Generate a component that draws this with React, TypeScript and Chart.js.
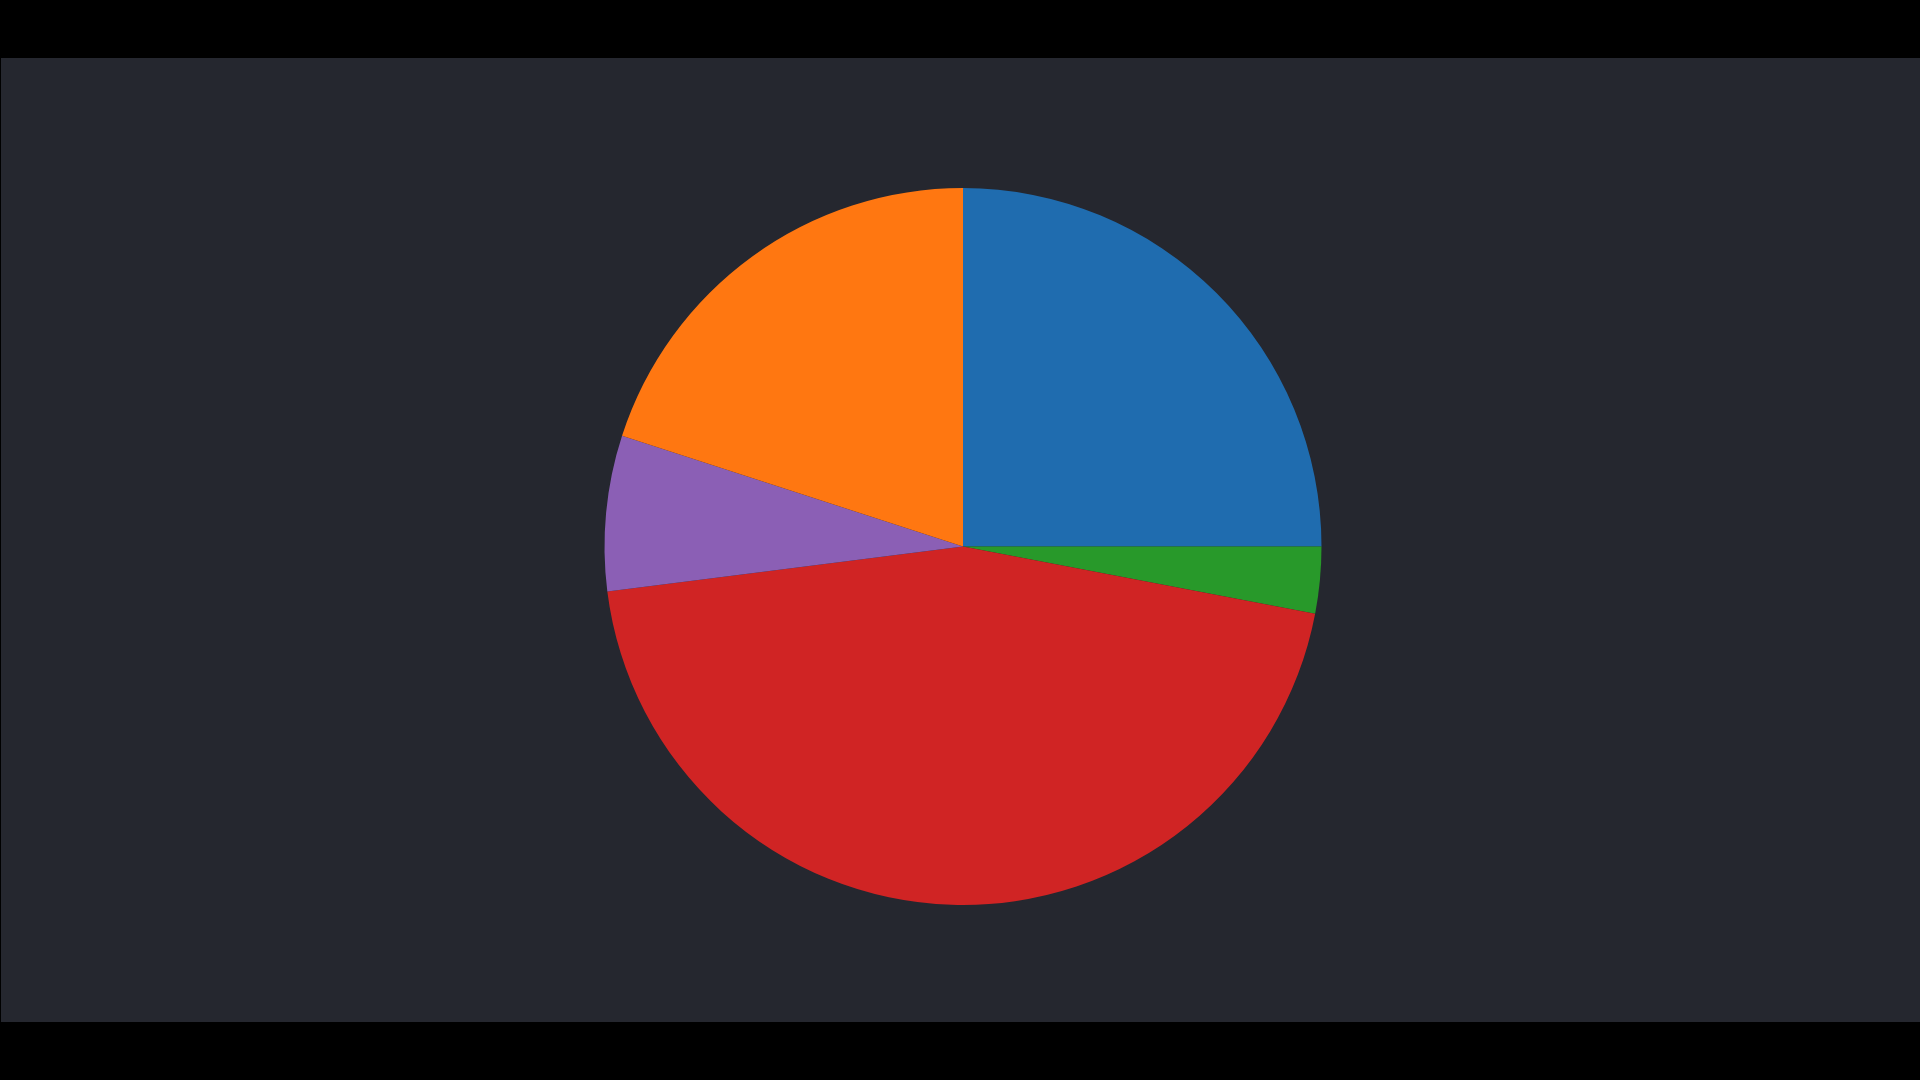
import React, { useEffect, useRef } from "react";
import { Chart, registerables } from "chart.js";

Chart.register(...registerables);

const categories = ["A", "B", "C", "D", "E"];
const values = [25, 3, 45, 7, 20];
const colors = ["#1f6caf", "#28992a", "#d02424", "#8b5fb5", "#ff7711"];

export default function App() {
  const ref = useRef<HTMLCanvasElement | null>(null);

  useEffect(() => {
    document.body.style.margin = "0";
    document.body.style.background = "#000000";
    const ctx = ref.current;
    if (!ctx) return;
    const chart = new Chart(ctx, {
      type: "pie",
      data: {
        labels: categories,
        datasets: [
          {
            data: values,
            backgroundColor: colors,
            borderWidth: 0,
          },
        ],
      },
      options: {
        animation: false,
        responsive: false,
        maintainAspectRatio: false,
        devicePixelRatio: 1,
        layout: { padding: { left: 603.5, right: 598.5, top: 130, bottom: 117 } },
        plugins: {
          legend: { display: false },
          tooltip: { enabled: false },
          title: { display: false },
        },
      },
    });
    return () => chart.destroy();
  }, []);

  return (
    <div style={{ position: "relative", width: 1920, height: 1080, background: "#000000", overflow: "hidden" }}>
      <div
        style={{
          position: "absolute",
          left: 1,
          top: 58,
          width: 1919,
          height: 964,
          background: "#25272f",
        }}
      >
        <canvas ref={ref} width={1919} height={964} style={{ display: "block", width: 1919, height: 964 }} />
      </div>
    </div>
  );
}
